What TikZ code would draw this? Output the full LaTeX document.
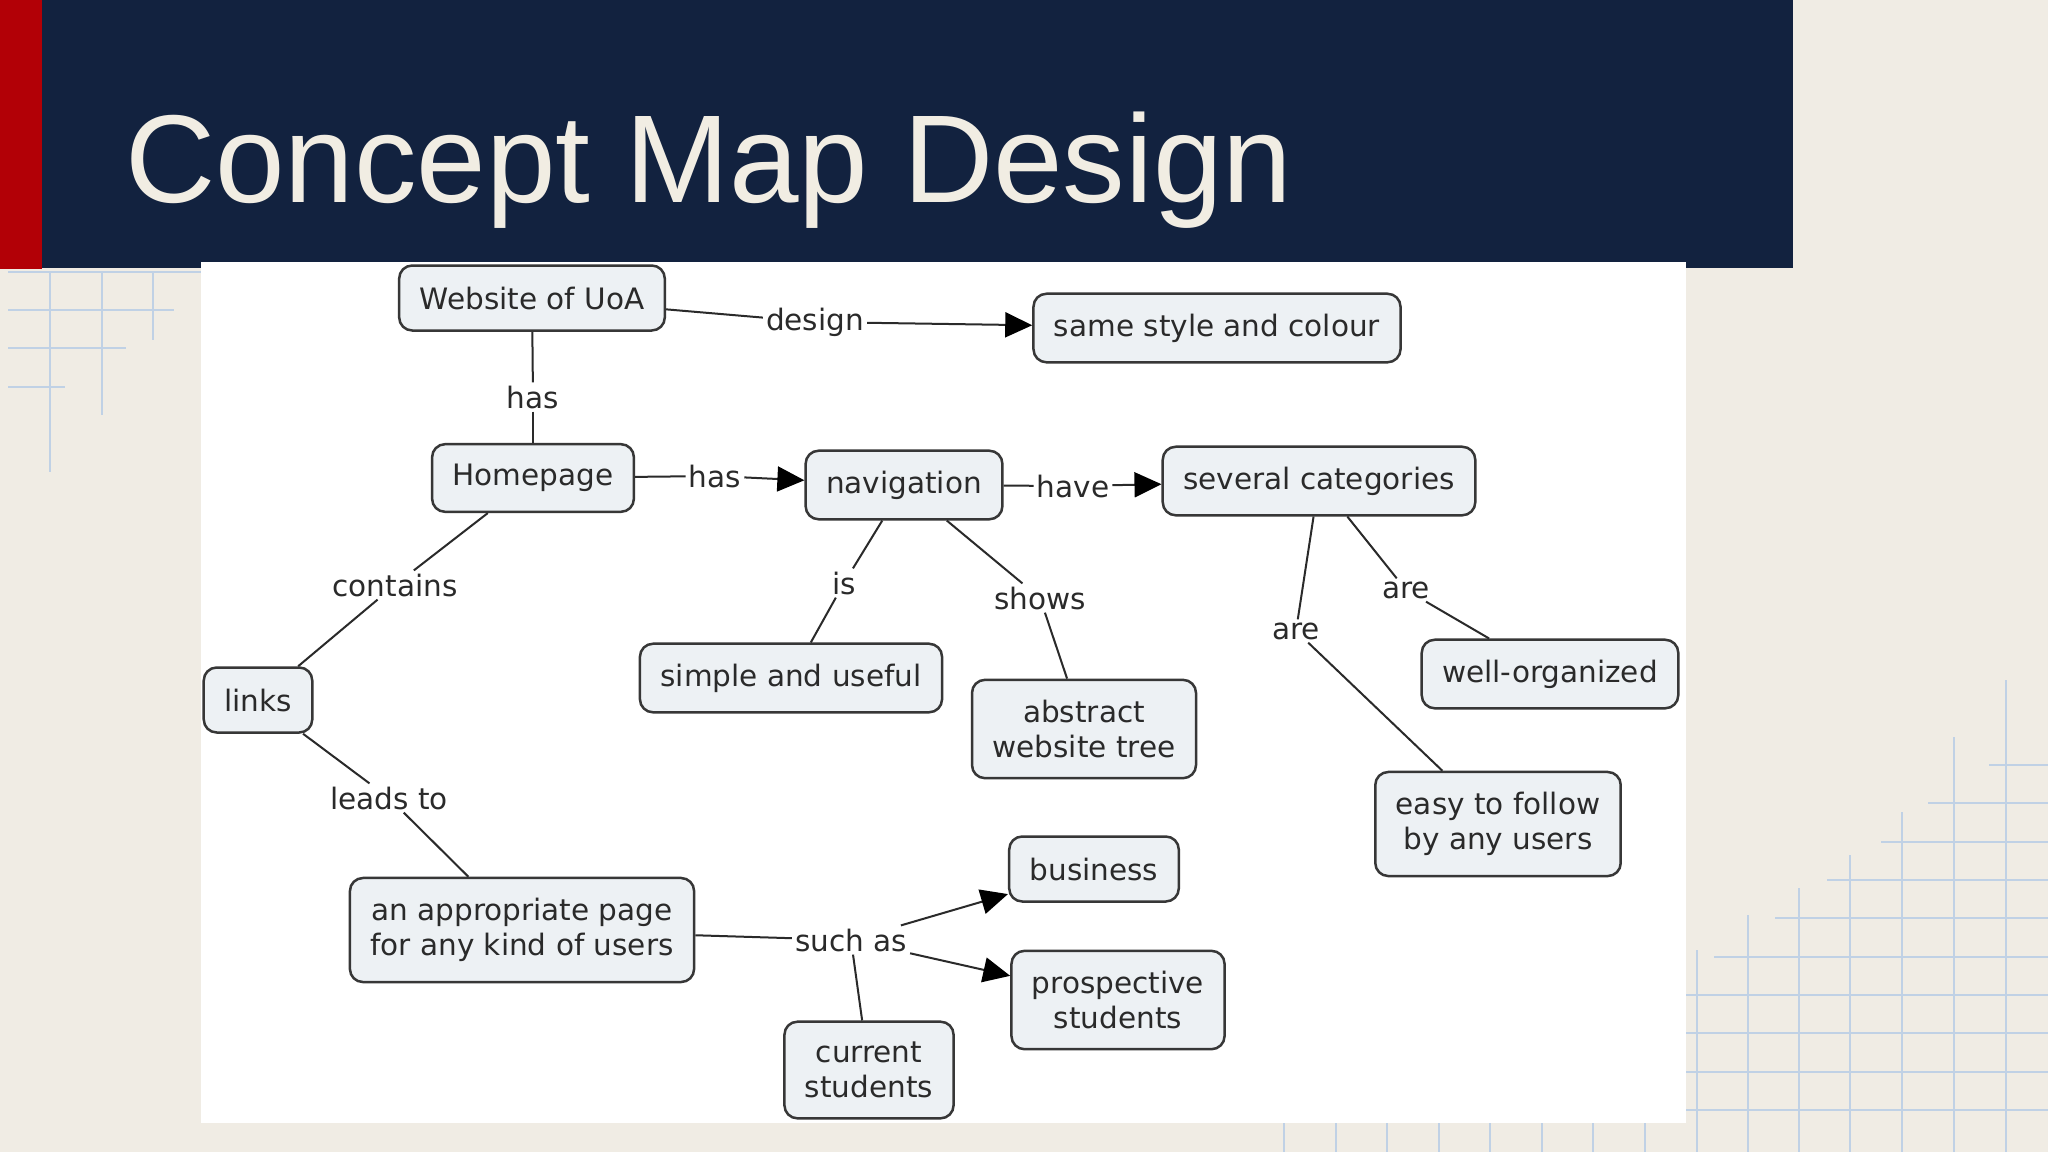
\documentclass[tikz,border=0pt]{standalone}
\usepackage{fontspec}
\setmainfont{DejaVu Sans}
\newfontfamily\titlefont{Liberation Sans}
\usetikzlibrary{arrows.meta}
\definecolor{bg}{RGB}{240,236,228}
\definecolor{navy}{RGB}{18,34,63}
\definecolor{redbar}{RGB}{178,0,6}
\definecolor{cream}{RGB}{241,237,227}
\definecolor{gridc}{RGB}{192,209,229}
\definecolor{boxfill}{RGB}{237,241,244}
\definecolor{boxline}{RGB}{55,55,55}
\definecolor{ink}{RGB}{42,42,42}
\begin{document}
\begin{tikzpicture}[x=1pt,y=-1pt,
  concept/.style={draw=boxline, line width=2.5pt, fill=boxfill, rounded corners=13pt,
    inner xsep=20.5pt, inner ysep=20pt, minimum height=65pt, align=center, text=ink,
    font=\fontsize{29.5}{35.5}\selectfont},
  lbl/.style={inner sep=3pt, text=ink, font=\fontsize{29.5}{35}\selectfont},
  link/.style={draw=ink, line width=2pt},
  arr/.style={link, -{Triangle[length=27pt,width=25pt,color=black]}},
  gridl/.style={draw=gridc, line width=2pt}]
\useasboundingbox (0,0) rectangle (2048,1152);
% background
\fill[bg] (0,0) rectangle (2048,1152);
% top-left grid
\draw[gridl] (8,272) -- (205,272);
\draw[gridl] (8,310) -- (174,310);
\draw[gridl] (8,348) -- (126,348);
\draw[gridl] (8,387) -- (65,387);
\draw[gridl] (50,272) -- (50,472);
\draw[gridl] (102,272) -- (102,415);
\draw[gridl] (153,272) -- (153,340);
% bottom-right grid
\foreach \gx in {1284,1335.5,1387,1438.5,1490,1541.5,1593,1644.5}
  \draw[gridl] (\gx,1000) -- (\gx,1152);
\foreach \gx/\gt in {1697/950,1748/915,1799/888,1850/855,1902/812,1954/737,2006/680}
  \draw[gridl] (\gx,\gt) -- (\gx,1152);
\foreach \gy/\gs in {765/1989,803/1928,842/1881,880/1827,918/1775,957/1714,995/1650,1033/1650,1072/1650,1110/1650}
  \draw[gridl] (\gs,\gy) -- (2048,\gy);
% header
\fill[redbar] (0,0) rectangle (42,269);
\fill[navy] (42,0) rectangle (1793,268);
\node[anchor=base west, inner sep=0pt, text=cream, font=\titlefont\fontsize{125}{150}\selectfont] (title) at (125,202) {Concept Map Design};
% white panel
\fill[white] (201,262) rectangle (1686,1123);
% concepts
\node[concept] (web) at (532,298) {Website of UoA};
\node[concept] (same) at (1217,328) {same style and colour};
\node[concept] (home) at (533,478) {Homepage};
\node[concept] (nav) at (904,485) {navigation};
\node[concept] (cat) at (1319,481) {several categories};
\node[concept] (links) at (258,700) {links};
\node[concept] (simple) at (791,678) {simple and useful};
\node[concept] (tree) at (1084,729) {abstract\\website tree};
\node[concept] (well) at (1550,674) {well-organized};
\node[concept] (easy) at (1498,824) {easy to follow\\by any users};
\node[concept] (page) at (522,930) {an appropriate page\\for any kind of users};
\node[concept] (bus) at (1094,869) {business};
\node[concept] (pros) at (1118,1000) {prospective\\students};
\node[concept] (cur) at (869,1070) {current\\students};
% linking phrases
\node[lbl] (design) at (815,322) {design};
\node[lbl] (has1) at (533,397) {has};
\node[lbl] (has2) at (715,476) {has};
\node[lbl] (have) at (1073,486) {have};
\node[lbl] (contains) at (395,585) {contains};
\node[lbl] (is) at (844,583) {is};
\node[lbl] (shows) at (1040,598) {shows};
\node[lbl] (areR) at (1406,590) {are};
\node[lbl] (areL) at (1296,631) {are};
\node[lbl] (leads) at (389,798) {leads to};
\node[lbl] (such) at (851,940) {such as};
% connectors
\draw[link] (web) -- (design);
\draw[arr] (design) -- (same);
\draw[link] (web) -- (has1);
\draw[link] (has1) -- (home);
\draw[link] (home) -- (has2);
\draw[arr] (has2) -- (nav);
\draw[link] (nav) -- (have);
\draw[arr] (have) -- (cat);
\draw[link] (home) -- (contains);
\draw[link] (contains) -- (links);
\draw[link] (nav) -- (is);
\draw[link] (is) -- (simple);
\draw[link] (nav) -- (shows);
\draw[link] (shows) -- (tree);
\draw[link] (cat) -- (areR);
\draw[link] (areR) -- (well);
\draw[link] (cat) -- (areL);
\draw[link] (areL) -- (easy);
\draw[link] (links) -- (leads);
\draw[link] (leads) -- (page);
\draw[link] (page) -- (such);
\draw[arr] (such) -- (bus);
\draw[arr] (such) -- (pros);
\draw[link] (such) -- (cur);
\end{tikzpicture}
\end{document}
